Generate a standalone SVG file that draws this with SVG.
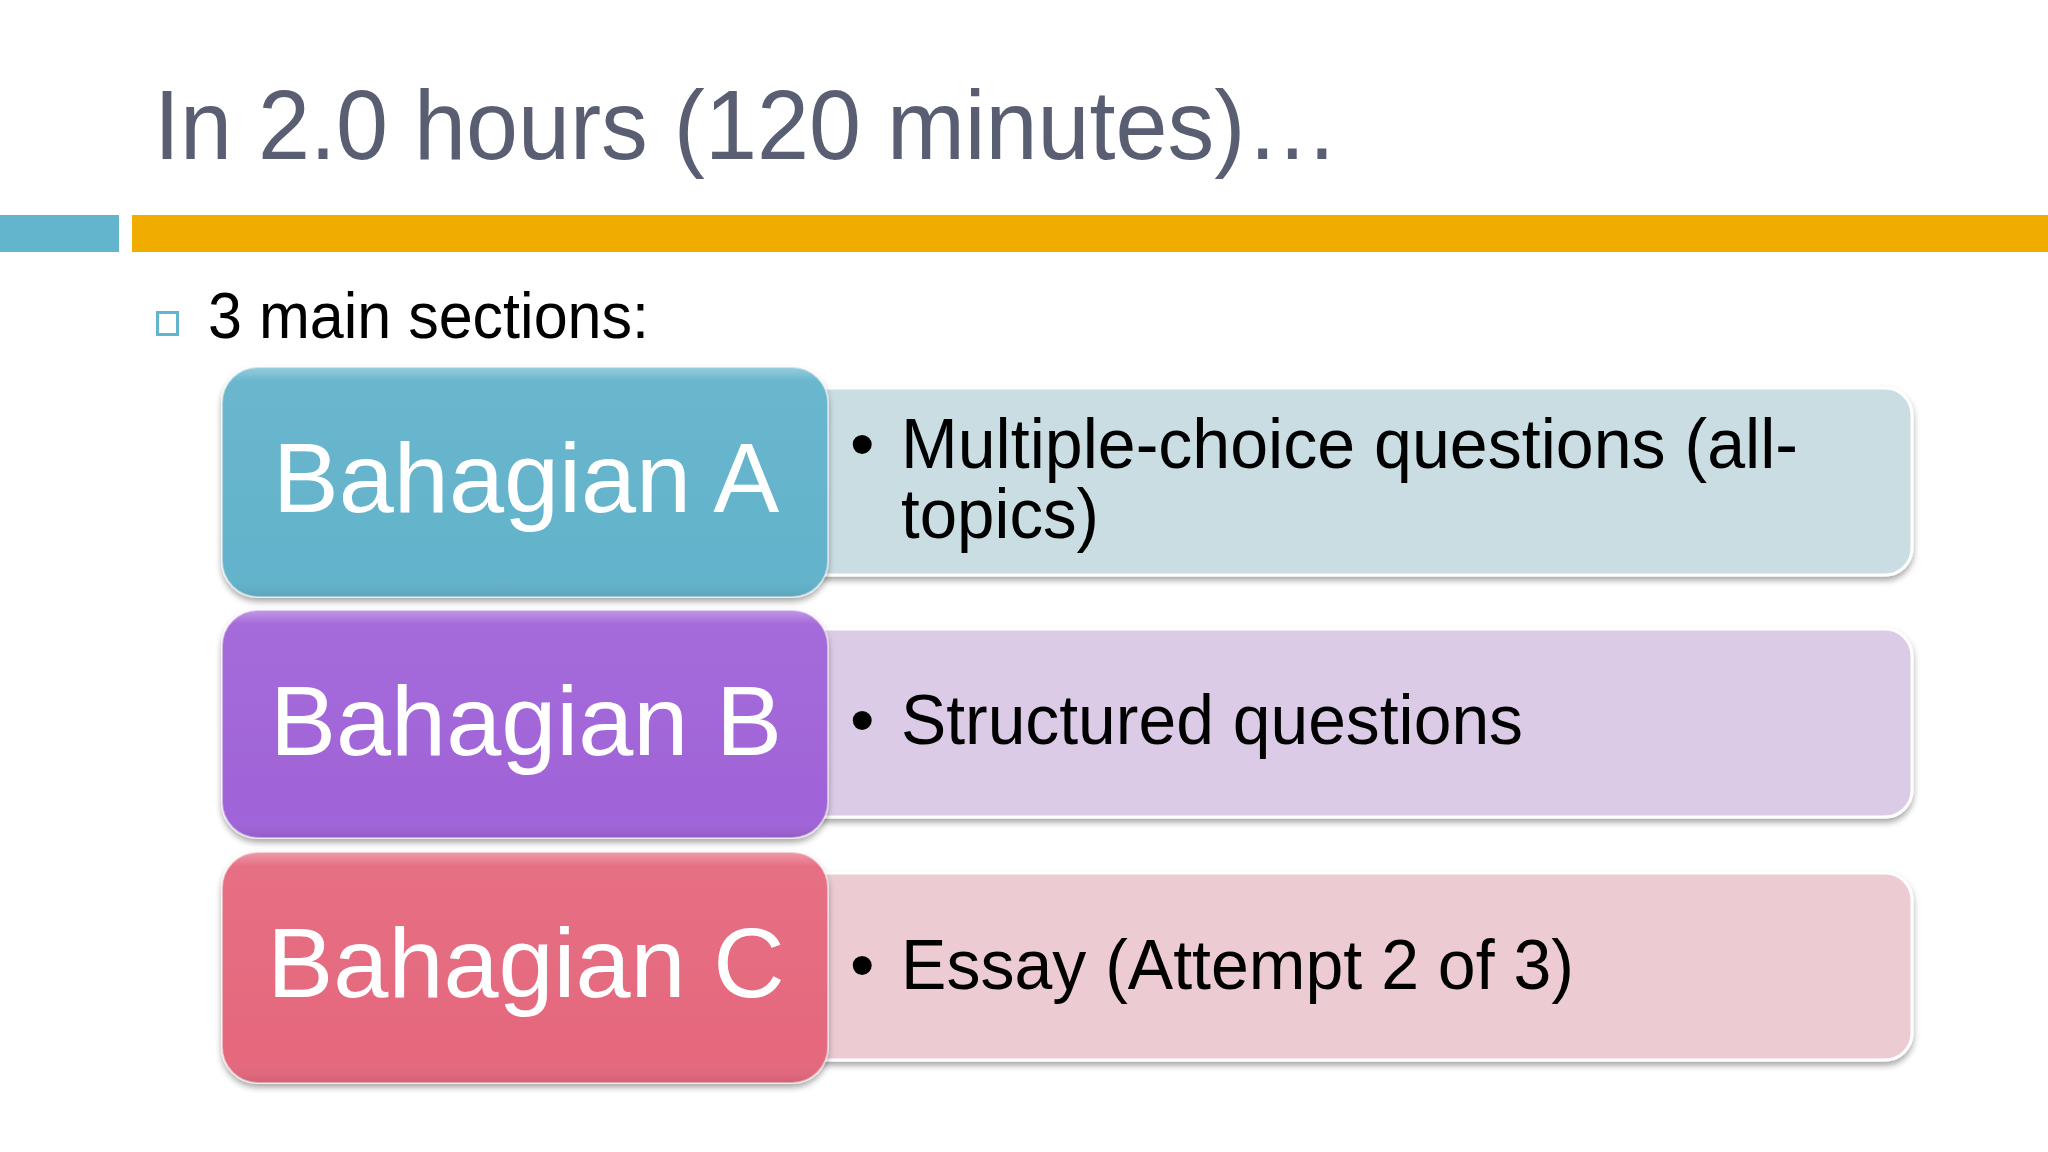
<svg xmlns="http://www.w3.org/2000/svg" width="2048" height="1152" viewBox="0 0 2048 1152">
<style>
.title{font-family:"Liberation Sans",Arial,sans-serif;font-size:98px;fill:#595e72}
.sub{font-family:"Liberation Sans",Arial,sans-serif;font-size:64px;fill:#000}
.head{font-family:"Liberation Sans",Arial,sans-serif;font-size:99px;fill:#fff;text-anchor:middle}
.item{font-family:"Liberation Sans",Arial,sans-serif;font-size:70px;fill:#000}
.light{stroke:#ffffff;stroke-width:3}
.dark{stroke:#ffffff;stroke-opacity:0.5;stroke-width:2}
</style>
<defs>
<filter id="sh" x="-5%" y="-10%" width="110%" height="125%">
<feDropShadow dx="0" dy="4" stdDeviation="3" flood-color="#000" flood-opacity="0.35"/>
</filter>
<linearGradient id="gloss" x1="0" y1="0" x2="0" y2="1">
<stop offset="0" stop-color="#fff" stop-opacity="0.35"/>
<stop offset="0.06" stop-color="#fff" stop-opacity="0.05"/>
<stop offset="0.9" stop-color="#fff" stop-opacity="0"/>
<stop offset="1" stop-color="#000" stop-opacity="0.08"/>
</linearGradient>
</defs>
<rect width="2048" height="1152" fill="#ffffff"/>
<text class="title" x="154" y="159" textLength="1185" lengthAdjust="spacingAndGlyphs">In 2.0 hours (120 minutes)…</text>
<rect x="0" y="215" width="119" height="37" fill="#62b5cc"/>
<rect x="132" y="215" width="1916" height="37" fill="#f0ad00"/>
<rect x="157.5" y="312.5" width="20" height="22" fill="none" stroke="#62b5cc" stroke-width="3"/>
<text class="sub" x="208" y="338" textLength="441" lengthAdjust="spacingAndGlyphs">3 main sections:</text>

<g id="row-a">
<rect class="light" x="790" y="388" width="1122" height="187" rx="27" fill="#c9dde2" filter="url(#sh)"/>
<rect class="dark" x="222" y="367" width="606" height="230" rx="36" fill="#62b3cb" filter="url(#sh)"/>
<rect x="222" y="367" width="606" height="230" rx="36" fill="url(#gloss)"/>
<text class="head" x="526" y="512">Bahagian A</text>
<text class="item" x="850" y="468">•</text>
<text class="item" x="901" y="468" textLength="897" lengthAdjust="spacingAndGlyphs">Multiple-choice questions (all-</text>
<text class="item" x="901" y="538" textLength="198" lengthAdjust="spacingAndGlyphs">topics)</text>
</g>

<g id="row-b">
<rect class="light" x="790" y="629" width="1122" height="188" rx="27" fill="#dccbe6" filter="url(#sh)"/>
<rect class="dark" x="222" y="610" width="606" height="228" rx="36" fill="#a064d8" filter="url(#sh)"/>
<rect x="222" y="610" width="606" height="228" rx="36" fill="url(#gloss)"/>
<text class="head" x="526" y="755">Bahagian B</text>
<text class="item" x="850" y="744">•</text>
<text class="item" x="901" y="744" textLength="622" lengthAdjust="spacingAndGlyphs">Structured questions</text>
</g>

<g id="row-c">
<rect class="light" x="790" y="873" width="1122" height="187" rx="27" fill="#eccbd3" filter="url(#sh)"/>
<rect class="dark" x="222" y="852" width="606" height="231" rx="36" fill="#e5677d" filter="url(#sh)"/>
<rect x="222" y="852" width="606" height="231" rx="36" fill="url(#gloss)"/>
<text class="head" x="526" y="997">Bahagian C</text>
<text class="item" x="850" y="989">•</text>
<text class="item" x="901" y="989" textLength="673" lengthAdjust="spacingAndGlyphs">Essay (Attempt 2 of 3)</text>
</g>

<g id="connectors"></g>
</svg>
